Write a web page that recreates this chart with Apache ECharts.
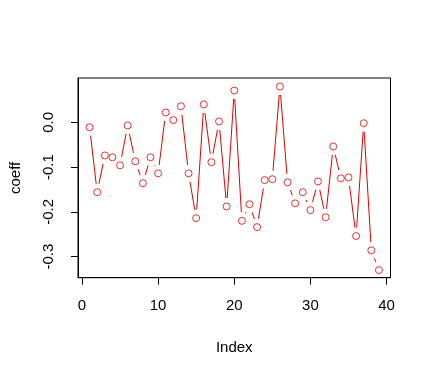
<!DOCTYPE html>
<html>
<head>
<meta charset="utf-8">
<script src="https://cdn.jsdelivr.net/npm/echarts@6/dist/echarts.min.js"></script>
<style>
html, body { margin: 0; padding: 0; background: #fff; }
#show { width: 431px; height: 376px; }
</style>
</head>
<body>
<div id="show"></div>
<script>
var myChart = echarts.init(document.getElementById("show"));

// values, index 1..39
var coeff = [
    -0.011, -0.156, -0.074, -0.078, -0.096, -0.007, -0.087, -0.136, -0.078, -0.114,
     0.022,  0.005,  0.036, -0.114, -0.214,  0.040, -0.089,  0.002, -0.188,  0.071,
    -0.220, -0.183, -0.234, -0.129, -0.127,  0.080, -0.134, -0.181, -0.156, -0.196,
    -0.132, -0.212, -0.054, -0.125, -0.123, -0.254, -0.002, -0.286, -0.330
];
var xTicks = [0, 10, 20, 30, 40];
var yTicks = [-0.3, -0.2, -0.1, 0.0];

var points = coeff.map(function (v, i) { return [i + 1, v]; });
var segments = [];
for (var i = 0; i < points.length - 1; i++) {
    segments.push([points[i][0], points[i][1], points[i + 1][0], points[i + 1][1]]);
}

var font = 'Liberation Sans, Arial, sans-serif';
var red = '#e00000';
var gap = 8.5; // R type="b" leaves a gap around each point

myChart.setOption({
    animation: false,
    grid: {
        left: 78, top: 78, width: 312.5, height: 199.7,
        show: true, borderColor: '#000', borderWidth: 1
    },
    xAxis: {
        type: 'value',
        min: -0.52, max: 40.52,
        name: 'Index',
        nameLocation: 'middle',
        nameGap: 63,
        nameTextStyle: { fontFamily: font, fontSize: 15, color: '#000' },
        axisLine: { show: true, onZero: false, lineStyle: { color: '#000', width: 1 } },
        axisTick: { show: true, length: 7, customValues: xTicks, lineStyle: { color: '#000' } },
        axisLabel: { customValues: xTicks, margin: 21, fontFamily: font, fontSize: 15, color: '#000' },
        splitLine: { show: false }
    },
    yAxis: {
        type: 'value',
        min: -0.347, max: 0.099,
        name: 'coeff',
        nameLocation: 'middle',
        nameGap: 55,
        nameTextStyle: { fontFamily: font, fontSize: 15, color: '#000' },
        axisLine: { show: true, onZero: false, lineStyle: { color: '#000', width: 1 } },
        axisTick: { show: true, length: 7, customValues: yTicks, lineStyle: { color: '#000' } },
        axisLabel: {
            customValues: yTicks, rotate: 90, margin: 22,
            fontFamily: font, fontSize: 15, color: '#000',
            formatter: function (v) { return v.toFixed(1); }
        },
        splitLine: { show: false }
    },
    series: [
        {
            type: 'custom',
            data: segments,
            encode: { x: [0, 2], y: [1, 3] },
            renderItem: function (params, api) {
                var a = api.coord([api.value(0), api.value(1)]);
                var b = api.coord([api.value(2), api.value(3)]);
                var dx = b[0] - a[0], dy = b[1] - a[1];
                var len = Math.sqrt(dx * dx + dy * dy);
                if (len <= 2 * gap) return null;
                var ux = dx / len, uy = dy / len;
                return {
                    type: 'line',
                    shape: {
                        x1: a[0] + ux * gap, y1: a[1] + uy * gap,
                        x2: b[0] - ux * gap, y2: b[1] - uy * gap
                    },
                    style: { stroke: red, lineWidth: 1 }
                };
            }
        },
        {
            type: 'scatter',
            data: points,
            symbol: 'circle',
            symbolSize: 7,
            itemStyle: { color: '#fff', borderColor: red, borderWidth: 1 }
        }
    ]
});
</script>
</body>
</html>
